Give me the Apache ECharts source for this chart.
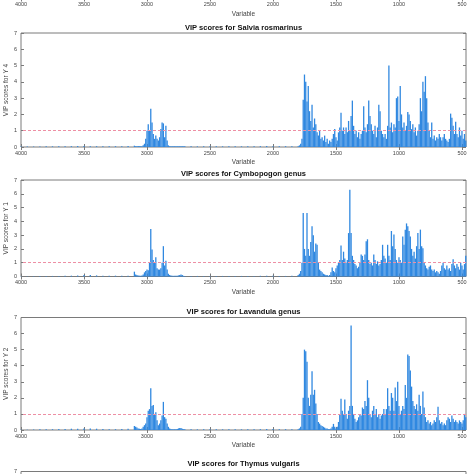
<!DOCTYPE html>
<html>
<head>
<meta charset="utf-8">
<script src="https://cdn.jsdelivr.net/npm/echarts@6/dist/echarts.min.js"></script>
<style>
    html, body { margin: 0; padding: 0; background: #fff; }
    #chart { width: 474px; height: 474px; }
</style>
</head>
<body>
<div id="chart"></div>
<script>
// sampling positions (cm-1): coarse where the scores are flat, 10 cm-1 where they move
function steps(from, to, step) {
    let out = [];
    for (let v = from; v >= to; v -= step) out.push(v);
    return out;
}
const wnHigh = steps(4000, 3150, 50);
const wnCH = steps(3100, 2700, 10);
const wnMid = steps(2650, 1850, 50);
const wnFp = steps(1800, 470, 10);
const wavenumber = [...wnHigh, ...wnCH, ...wnMid, ...wnFp];

const xTicks = [4000, 3500, 3000, 2500, 2000, 1500, 1000, 500];

// Salvia rosmarinus (Y 4)
const salviaHigh = [0.03,0.03,0.03,0.03,0.04,0.04,0.04,0.05,0.05,0.06,0.06,0.05,0.05,0.04,0.04,0.05,0.05,0.06];
const salviaCH = [
    0.08,0.05,0.05,0.06,0.05,0.05,0.05,0.1,0.2,0.5,
    1.0,1.4,1.0,2.35,1.5,0.8,0.5,0.7,0.5,0.4,
    0.6,1.1,1.5,1.45,0.6,1.3,0.4,0.1,0.05,0.05,
    0.05,0.04,0.04,0.04,0.04,0.04,0.05,0.05,0.04,0.04,
    0.04];
const salviaMid = [0.04,0.04,0.04,0.04,0.04,0.04,0.04,0.04,0.04,0.04,0.05,0.05,0.06,0.05,0.05,0.05,0.05];
const salviaFp = [
    0.05,0.1,0.2,0.5,2.9,4.45,4.0,2.8,3.75,2.2,     // 1800
    1.6,2.6,1.2,1.75,1.4,0.9,0.7,1.0,0.5,0.6,       // 1700
    0.4,0.7,0.3,0.5,0.2,0.4,0.3,0.5,0.8,1.1,        // 1600
    0.6,0.4,0.9,1.2,2.1,1.0,1.2,0.8,1.2,0.9,        // 1500
    1.6,1.0,1.9,2.85,1.3,0.8,1.0,0.6,0.9,0.5,       // 1400
    0.8,1.0,2.5,1.2,0.9,1.4,2.85,1.9,1.4,1.0,       // 1300
    0.8,1.3,0.6,1.2,2.6,2.2,1.0,0.8,0.6,0.8,        // 1200
    0.5,1.3,5.0,1.2,1.5,0.9,1.4,1.2,3.0,3.1,        // 1100
    1.6,3.75,2.0,1.2,1.5,1.0,1.3,2.15,2.0,1.6,      // 1000
    1.1,1.4,0.9,1.2,0.7,1.0,1.4,3.0,2.2,4.0,        // 900
    3.4,4.35,3.0,1.5,1.0,0.6,1.5,0.5,0.7,0.4,       // 800
    0.6,0.5,0.8,0.6,0.4,0.6,0.8,0.5,0.4,0.3,        // 700
    0.5,2.05,1.8,1.3,0.8,1.55,0.8,0.6,1.2,0.7,      // 600
    1.0,0.5,0.8,0.4];                               // 500

// Cymbopogon genus (Y 1)
const cymboHigh = [0.02,0.02,0.03,0.03,0.03,0.04,0.04,0.05,0.06,0.08,0.1,0.1,0.08,0.06,0.05,0.06,0.06,0.05];
const cymboCH = [
    0.35,0.15,0.1,0.08,0.06,0.05,0.08,0.15,0.3,0.4,
    0.5,0.45,1.0,3.45,1.95,1.2,1.0,1.4,0.6,0.5,
    0.5,0.6,1.0,2.2,0.8,1.15,0.5,0.2,0.1,0.08,
    0.05,0.05,0.05,0.05,0.05,0.08,0.1,0.15,0.1,0.05,
    0.04];
const cymboMid = [0.04,0.04,0.04,0.04,0.04,0.04,0.04,0.04,0.04,0.04,0.04,0.05,0.05,0.05,0.04,0.04,0.05];
const cymboFp = [
    0.1,0.2,0.4,1.0,4.6,2.0,1.5,4.6,2.0,1.5,        // 1800
    2.5,3.65,3.0,1.8,2.4,2.3,1.0,0.5,0.4,0.3,       // 1700
    0.2,0.15,0.1,0.1,0.05,0.1,0.3,0.65,0.4,0.3,     // 1600
    0.6,0.8,1.0,1.2,2.25,1.2,1.8,1.3,1.0,1.2,       // 1500
    3.15,6.3,3.15,1.5,1.2,0.9,0.8,0.6,0.7,1.0,      // 1400
    1.6,1.5,1.2,1.6,2.55,2.7,1.2,0.9,1.0,0.8,       // 1300
    1.6,1.2,0.9,1.1,0.8,0.9,1.2,2.3,1.5,1.3,        // 1200
    1.0,2.3,1.5,1.2,3.3,2.2,3.05,2.0,1.2,1.0,       // 1100
    1.4,1.2,1.0,2.9,2.3,3.4,3.85,3.65,3.3,2.9,      // 1000
    2.0,1.5,1.8,1.3,2.2,3.15,2.0,3.4,2.2,2.05,      // 900
    1.0,0.8,0.6,0.5,0.7,0.8,0.5,0.4,0.5,0.3,        // 800
    0.4,0.3,0.2,0.4,0.8,1.0,0.6,0.5,0.8,0.5,        // 700
    0.6,0.4,0.9,1.25,0.8,0.6,0.9,0.7,0.5,1.0,       // 600
    0.8,0.5,0.9,1.5];                               // 500

// Lavandula genus (Y 2)
const lavHigh = [0.02,0.02,0.03,0.04,0.04,0.05,0.06,0.07,0.08,0.08,0.1,0.1,0.08,0.06,0.05,0.05,0.06,0.08];
const lavCH = [
    0.25,0.2,0.15,0.1,0.08,0.06,0.1,0.2,0.3,0.4,
    0.8,1.2,1.3,2.6,1.5,1.55,1.0,1.1,0.6,0.3,
    0.4,0.6,0.9,1.75,0.8,0.7,0.4,0.2,0.1,0.06,
    0.05,0.04,0.05,0.05,0.06,0.1,0.12,0.12,0.08,0.05,
    0.04];
const lavMid = [0.04,0.04,0.04,0.04,0.04,0.04,0.04,0.04,0.04,0.05,0.05,0.05,0.06,0.06,0.05,0.05,0.05];
const lavFp = [
    0.05,0.1,0.2,1.0,2.0,5.0,4.9,4.25,2.0,1.5,      // 1800
    2.2,3.65,2.2,2.5,1.65,1.0,0.5,0.4,0.3,0.25,     // 1700
    0.2,0.15,0.1,0.1,0.05,0.05,0.1,0.2,0.38,0.2,    // 1600
    0.1,0.2,0.5,1.0,1.95,1.2,1.0,1.9,1.0,0.7,       // 1500
    1.2,1.5,6.5,1.5,1.0,0.7,0.5,0.6,0.8,1.0,        // 1400
    0.9,1.4,1.3,1.8,1.5,3.1,2.0,1.0,0.8,1.2,        // 1300
    1.5,1.0,1.3,0.8,1.0,0.7,0.9,1.0,1.3,1.0,        // 1200
    1.3,2.6,1.5,1.2,2.3,2.0,1.2,2.65,1.8,3.0,       // 1100
    1.5,1.0,1.2,1.5,1.3,2.8,2.0,4.7,4.6,3.7,        // 1000
    2.7,1.8,1.5,1.3,1.6,1.2,2.2,1.5,1.0,2.4,        // 900
    1.4,0.8,0.5,0.6,0.4,0.5,0.3,0.4,0.6,0.5,        // 800
    0.8,1.45,0.6,0.4,0.5,0.3,0.4,0.3,0.6,0.8,       // 700
    0.7,0.5,0.9,0.7,0.5,0.6,0.5,0.4,0.6,0.5,        // 600
    0.4,0.6,1.0,0.8];                               // 500

const salvia = [...salviaHigh, ...salviaCH, ...salviaMid, ...salviaFp];
const cymbo = [...cymboHigh, ...cymboCH, ...cymboMid, ...cymboFp];
const lav = [...lavHigh, ...lavCH, ...lavMid, ...lavFp];

const threshold = 1;

// stacked panels; first and last are cut by the picture edge
const panels = [
    { title: '', yName: '', data: null },
    { title: 'VIP scores for Salvia rosmarinus', yName: 'VIP scores for Y 4', data: salvia },
    { title: 'VIP scores for Cymbopogon genus', yName: 'VIP scores for Y 1', data: cymbo },
    { title: 'VIP scores for Lavandula genus', yName: 'VIP scores for Y 2', data: lav },
    { title: 'VIP scores for Thymus vulgaris', yName: 'VIP scores for Y 3', data: null }
];
const boxes = [
    { top: -114, height: 112.5, titleTop: 0 },
    { top: 33, height: 114, titleTop: 24 },
    { top: 180, height: 96.5, titleTop: 170 },
    { top: 317.5, height: 112.5, titleTop: 307.5 },
    { top: 471.5, height: 110, titleTop: 460 }
];

const FONT = '"Liberation Sans", Arial, Helvetica, sans-serif';
const frameColor = '#7a7a7a';
const textColor = '#444';

let grid = [], xAxis = [], yAxis = [], series = [], title = [];

panels.forEach((p, i) => {
    let b = boxes[i];
    grid.push({
        left: 21, right: 8, top: b.top, height: b.height,
        containLabel: false, outerBoundsMode: 'none',
        show: true, borderColor: frameColor, borderWidth: 1
    });
    let tick = { inside: true, length: 3, customValues: xTicks, lineStyle: { color: frameColor } };
    xAxis.push({
        gridIndex: i, type: 'value', inverse: true, min: 468, max: 4000,
        axisLine: { show: false }, splitLine: { show: false },
        axisTick: tick,
        axisLabel: {
            customValues: xTicks, fontSize: 5.5, color: textColor, margin: 3, fontFamily: FONT,
            formatter: (v) => String(v)
        },
        name: 'Variable', nameLocation: 'middle', nameGap: 12, nameMoveOverlap: false,
        nameTextStyle: { fontSize: 6.5, color: textColor, fontFamily: FONT }
    });
    xAxis.push({
        gridIndex: i, type: 'value', inverse: true, min: 468, max: 4000, position: 'top',
        axisLine: { show: false }, splitLine: { show: false },
        axisTick: tick, axisLabel: { show: false }
    });
    yAxis.push({
        gridIndex: i, type: 'value', min: 0, max: 7, interval: 1,
        axisLine: { show: false }, splitLine: { show: false },
        axisTick: { inside: true, length: 3, lineStyle: { color: frameColor } },
        axisLabel: { fontSize: 5.5, color: textColor, margin: 4, fontFamily: FONT },
        name: p.yName, nameLocation: 'middle', nameGap: 11, nameMoveOverlap: false,
        nameTextStyle: { fontSize: 6.5, color: textColor, fontFamily: FONT }
    });
    yAxis.push({
        gridIndex: i, type: 'value', min: 0, max: 7, interval: 1, position: 'right',
        axisLine: { show: false }, splitLine: { show: false },
        axisTick: { inside: true, length: 3, lineStyle: { color: frameColor } },
        axisLabel: { show: false }
    });
    if (p.title) {
        title.push({
            text: p.title, left: 243.5, textAlign: 'center', top: b.titleTop, padding: 0,
            textStyle: { fontSize: 7.5, fontWeight: 'bold', color: '#111', fontFamily: FONT }
        });
    }
    if (p.data) {
        series.push({
            type: 'bar',
            xAxisIndex: 2 * i, yAxisIndex: 2 * i,
            barWidth: 1.3,
            itemStyle: { color: '#3088e0' },
            data: wavenumber.map((w, k) => [w, p.data[k]]),
            markLine: {
                silent: true, symbol: 'none', label: { show: false },
                lineStyle: { type: [3, 2], color: '#ee8fa4', width: 1 },
                data: [{ yAxis: threshold }]
            }
        });
    }
});

let myChart = echarts.init(document.getElementById('chart'), null, { renderer: 'canvas' });
myChart.setOption({
    animation: false,
    backgroundColor: '#fff',
    title: title,
    grid: grid,
    xAxis: xAxis,
    yAxis: yAxis,
    series: series
});
</script>
</body>
</html>
